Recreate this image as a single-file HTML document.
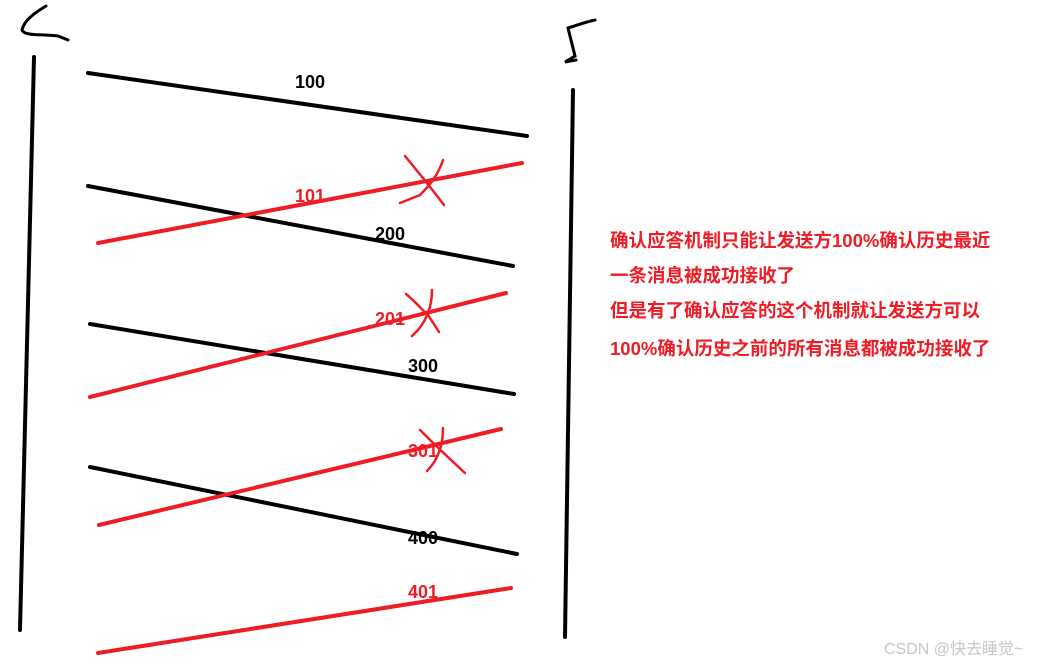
<!DOCTYPE html>
<html><head><meta charset="utf-8"><style>
html,body{margin:0;padding:0;background:#fff;}
svg{display:block;}
.t{font-family:"Liberation Sans","Noto Sans CJK SC",sans-serif;font-weight:bold;font-size:18px;}
</style></head><body>
<svg width="1060" height="665" viewBox="0 0 1060 665" xmlns="http://www.w3.org/2000/svg">
<g fill="none" stroke="#000" stroke-width="4" stroke-linecap="round">
<path d="M46,6 C36,12 24,20 22,30 C24,36 40,34 58,36 L68,40" stroke-width="3"/>
<path d="M595,20 C585,22 575,26 568,28 L575,56 L565,62 L576,60" stroke-width="3"/>
<line x1="34" y1="57" x2="20" y2="630"/>
<line x1="573" y1="90" x2="565" y2="637"/>
<line x1="88" y1="73" x2="527" y2="136"/>
<line x1="88" y1="186" x2="513" y2="266"/>
<line x1="90" y1="324" x2="514" y2="394"/>
<line x1="90" y1="467" x2="517" y2="554"/>
</g>
<g fill="none" stroke="#ee1c25" stroke-width="4" stroke-linecap="round">
<line x1="98" y1="243" x2="522" y2="163"/>
<line x1="90" y1="397" x2="506" y2="293"/>
<line x1="99" y1="525" x2="501" y2="429"/>
<line x1="98" y1="653" x2="511" y2="588"/>
</g>
<g fill="none" stroke="#ee1c25" stroke-width="2.5" stroke-linecap="round">
<path d="M405,156 L427,183 L444,205"/>
<path d="M443,160 C438,175 430,185 420,195 L400,203"/>
<path d="M406,294 C416,302 422,310 428,315 L439,332"/>
<path d="M432,290 C432,305 428,318 418,330 L412,336"/>
<path d="M420,430 C430,440 440,450 465,473"/>
<path d="M443,428 C443,445 438,460 427,471"/>
</g>
<g class="t" fill="#000">
<text x="295" y="88">100</text>
<text x="375" y="240">200</text>
<text x="408" y="372">300</text>
<text x="408" y="544">400</text>
</g>
<g class="t" fill="#ee1c25">
<text x="295" y="202">101</text>
<text x="375" y="325">201</text>
<text x="408" y="457">301</text>
<text x="408" y="598">401</text>
</g>
<g font-family="'Liberation Sans','Noto Sans CJK SC',sans-serif" font-weight="bold" font-size="18.5" fill="#ee1c25">
<text x="610" y="247">确认应答机制只能让发送方100%确认历史最近</text>
<text x="610" y="282">一条消息被成功接收了</text>
<text x="610" y="317">但是有了确认应答的这个机制就让发送方可以</text>
<text x="610" y="355">100%确认历史之前的所有消息都被成功接收了</text>
</g>
<text x="884" y="654" font-family="'Liberation Sans','Noto Sans CJK SC',sans-serif" font-size="16" fill="#c8c8c8">CSDN @快去睡觉~</text>
</svg>
</body></html>
